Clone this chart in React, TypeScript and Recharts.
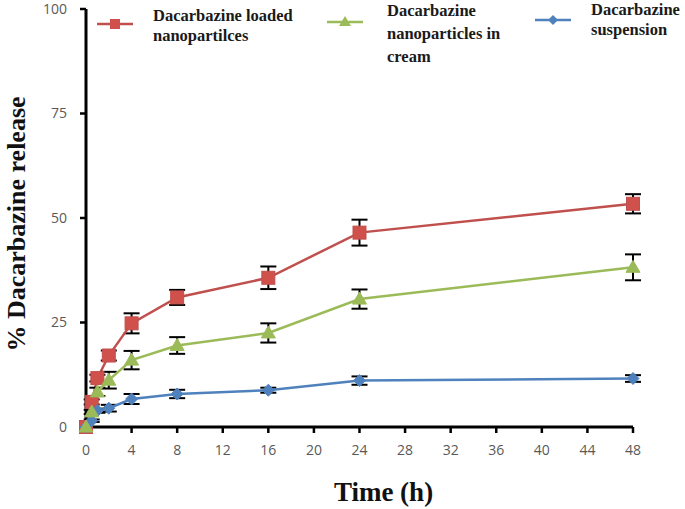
import React from 'react';
import { LineChart, Line, XAxis, YAxis, ErrorBar, Label } from 'recharts';

// release time points (h)
const times = [0, 0.5, 1, 2, 4, 8, 16, 24, 48];

// % dacarbazine released, with error bars
const loadedNp = [0, 6.0, 11.7, 17.1, 24.8, 31.0, 35.7, 46.5, 53.4];
const loadedNpErr = [0, 0.6, 0.8, 1.2, 2.4, 1.8, 2.7, 3.1, 2.3];
const npCream = [0, 3.6, 8.4, 11.2, 16.0, 19.5, 22.5, 30.6, 38.2];
const npCreamErr = [0, 0.5, 1.0, 2.0, 2.2, 2.0, 2.3, 2.3, 3.1];
const suspension = [0, 1.5, 3.9, 4.5, 6.7, 7.9, 8.8, 11.1, 11.6];
const suspensionErr = [0, 0.3, 0.5, 0.8, 1.2, 1.0, 0.6, 1.0, 0.8];

const xTicks = [0, 4, 8, 12, 16, 20, 24, 28, 32, 36, 40, 44, 48];
const yTicks = [0, 25, 50, 75, 100];

const legendLines = [
  ['Dacarbazine loaded', 'nanopartilces'],
  ['Dacarbazine', 'nanoparticles in', 'cream'],
  ['Dacarbazine', 'suspension'],
];

const RED = '#C0504D';
const GREEN = '#9BBB59';
const BLUE = '#4F81BD';

const data = times.map((t, i) => ({
  t,
  loaded: loadedNp[i],
  loadedErr: loadedNpErr[i],
  cream: npCream[i],
  creamErr: npCreamErr[i],
  susp: suspension[i],
  suspErr: suspensionErr[i],
}));

const Square = (props: any) => {
  const { cx, cy, index } = props;
  return <rect key={`sq-${index}`} x={cx - 6.5} y={cy - 6.5} width={13} height={13} fill="#D0504C" stroke={RED} strokeWidth={1} />;
};

const Triangle = (props: any) => {
  const { cx, cy, index } = props;
  return (
    <polygon
      key={`tr-${index}`}
      points={`${cx},${cy - 7} ${cx + 7},${cy + 5} ${cx - 7},${cy + 5}`}
      fill={GREEN}
      stroke={GREEN}
      strokeWidth={1}
    />
  );
};

const Diamond = (props: any) => {
  const { cx, cy, index } = props;
  return (
    <polygon
      key={`dm-${index}`}
      points={`${cx},${cy - 6} ${cx + 6},${cy} ${cx},${cy + 6} ${cx - 6},${cy}`}
      fill={BLUE}
      stroke={BLUE}
      strokeWidth={1}
    />
  );
};

const legendMarks = [
  { color: RED, shape: 'square', x: 97, y: 24, textX: 153, baseline: 21, lineGap: 20 },
  { color: GREEN, shape: 'triangle', x: 327, y: 22, textX: 387, baseline: 16, lineGap: 23 },
  { color: BLUE, shape: 'diamond', x: 535, y: 20, textX: 591, baseline: 15, lineGap: 20 },
];

const LegendOverlay = () => (
  <svg width={685} height={80} style={{ position: 'absolute', left: 0, top: 0, pointerEvents: 'none' }}>
    {legendMarks.map((m, i) => (
      <g key={i}>
        <line x1={m.x} y1={m.y} x2={m.x + 36} y2={m.y} stroke={m.color} strokeWidth={2.5} />
        {m.shape === 'square' && <rect x={m.x + 13} y={m.y - 5} width={10} height={10} fill="#D0504C" />}
        {m.shape === 'triangle' && (
          <polygon points={`${m.x + 18},${m.y - 6} ${m.x + 24},${m.y + 4} ${m.x + 12},${m.y + 4}`} fill={m.color} />
        )}
        {m.shape === 'diamond' && (
          <polygon points={`${m.x + 18},${m.y - 5} ${m.x + 23},${m.y} ${m.x + 18},${m.y + 5} ${m.x + 13},${m.y}`} fill={m.color} />
        )}
        {legendLines[i].map((txt, j) => (
          <text
            key={j}
            x={m.textX}
            y={m.baseline + j * m.lineGap}
            fontFamily="'Liberation Serif', 'Times New Roman', serif"
            fontWeight="bold"
            fontSize={16.5}
            fill="#1a1a1a"
          >
            {txt}
          </text>
        ))}
      </g>
    ))}
  </svg>
);

const tickStyle = { fontFamily: "'Open Sans', sans-serif", fontSize: 14, fill: '#595959' };

export default function App() {
  return (
    <div style={{ position: 'absolute', left: 0, top: 0, width: 685, height: 509, background: '#fff' }}>
      <LineChart width={685} height={509} data={data} margin={{ top: 9, right: 52, left: 0, bottom: 0 }}>
        <XAxis
          dataKey="t"
          type="number"
          domain={[0, 48]}
          ticks={xTicks}
          interval={0}
          height={82}
          tick={tickStyle}
          tickSize={6}
          tickMargin={12}
          axisLine={{ stroke: '#000', strokeWidth: 3 }}
          tickLine={{ stroke: '#000', strokeWidth: 2.5 }}
        >
          <Label
            content={(props: any) => {
              const vb = props.viewBox;
              return (
                <text
                  x={vb.x + vb.width / 2 + 24}
                  y={501}
                  textAnchor="middle"
                  fontFamily="'Liberation Serif', 'Times New Roman', serif"
                  fontWeight="bold"
                  fontSize={27}
                  fill="#111"
                >
                  Time (h)
                </text>
              );
            }}
          />
        </XAxis>
        <YAxis
          type="number"
          domain={[0, 100]}
          ticks={yTicks}
          interval={0}
          width={86}
          tick={tickStyle}
          tickSize={6}
          tickMargin={13}
          axisLine={{ stroke: '#000', strokeWidth: 3 }}
          tickLine={{ stroke: '#000', strokeWidth: 2.5 }}
        >
          <Label
            content={(props: any) => {
              const vb = props.viewBox;
              const cy = vb.y + vb.height / 2 + 6;
              return (
                <text
                  x={25}
                  y={cy}
                  transform={`rotate(-90, 25, ${cy})`}
                  textAnchor="middle"
                  fontFamily="'Liberation Serif', 'Times New Roman', serif"
                  fontWeight="bold"
                  fontSize={26}
                  fill="#111"
                >
                  % Dacarbazine release
                </text>
              );
            }}
          />
        </YAxis>
        <Line dataKey="loaded" stroke={RED} strokeWidth={2.5} dot={Square} isAnimationActive={false}>
          <ErrorBar dataKey="loadedErr" width={8} stroke="#000" strokeWidth={2} direction="y" />
        </Line>
        <Line dataKey="susp" stroke={BLUE} strokeWidth={2.5} dot={Diamond} isAnimationActive={false}>
          <ErrorBar dataKey="suspErr" width={8} stroke="#000" strokeWidth={2} direction="y" />
        </Line>
        <Line dataKey="cream" stroke={GREEN} strokeWidth={2.5} dot={Triangle} isAnimationActive={false}>
          <ErrorBar dataKey="creamErr" width={8} stroke="#000" strokeWidth={2} direction="y" />
        </Line>
      </LineChart>
      <LegendOverlay />
    </div>
  );
}
